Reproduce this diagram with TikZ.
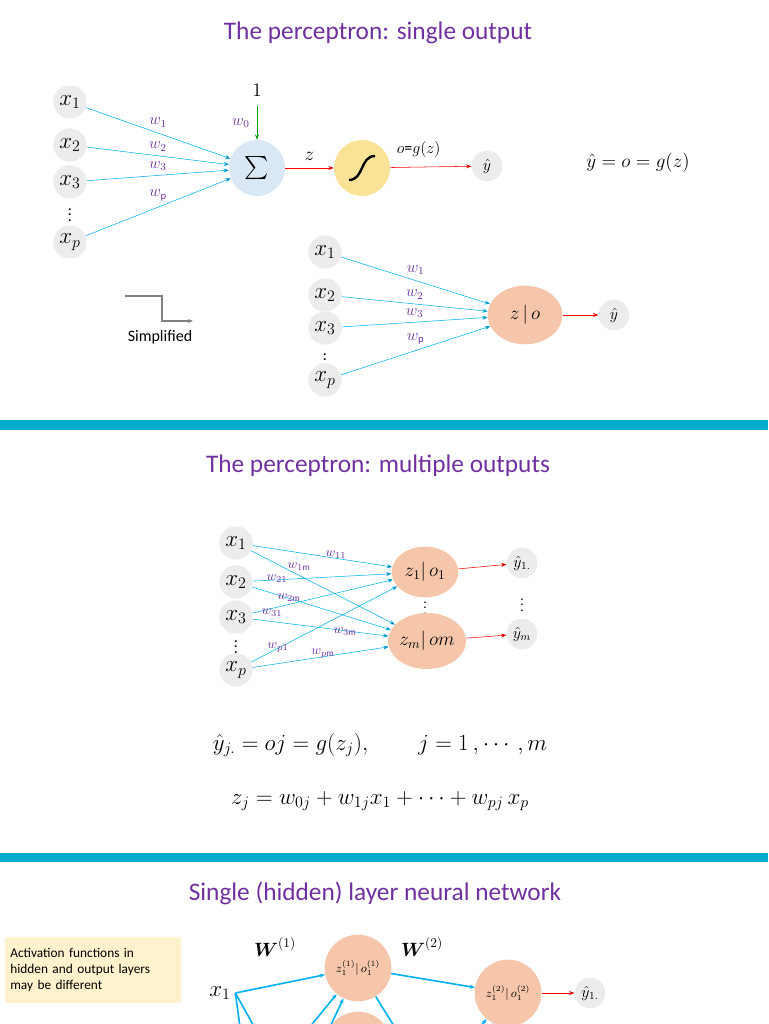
\documentclass[tikz,border=0pt]{standalone}
\usepackage{fontspec}
\setmainfont{Carlito}
\usepackage{amsmath}
\usetikzlibrary{arrows.meta,shapes.geometric,positioning}
\definecolor{titlepurple}{RGB}{112,48,160}
\definecolor{wcyan}{RGB}{0,176,240}
\definecolor{barcyan}{RGB}{0,172,206}
\definecolor{sumblue}{RGB}{218,232,246}
\definecolor{sigyellow}{RGB}{250,226,150}
\definecolor{neuron}{RGB}{246,198,170}
\definecolor{notebox}{RGB}{255,242,204}
\tikzset{
  title/.style={text=titlepurple, font=\fontsize{19}{22}\selectfont},
  inp/.style={circle, fill=gray!15, minimum size=25pt, inner sep=0pt, font=\LARGE},
  outp/.style={circle, fill=gray!15, minimum size=23pt, inner sep=0pt, font=\large},
  unit/.style={ellipse, fill=neuron, minimum width=54pt, minimum height=44pt, inner sep=0pt, font=\Large},
  wt/.style={-{Stealth[length=4pt]}, draw=wcyan, thin},
  act/.style={-{Stealth[length=4pt]}, draw=red, thin},
  wlab/.style={text=titlepurple, font=\large},
  bar/.style={fill=barcyan, draw=none}
}
\begin{document}
\begin{tikzpicture}[x=0.75pt, y=-0.75pt]
  \useasboundingbox (0,0) rectangle (768,1024);
  \clip (0,0) rectangle (768,1024);
  % bars
  \fill[bar] (0,420) rectangle (768,430);
  \fill[bar] (0,853) rectangle (768,862);
  \node[title] (t1) at (378,33) {The perceptron: single output};
  \node[title] (t2) at (378,466) {The perceptron: multiple outputs};
  \node[title] (t3) at (375,893) {Single (hidden) layer neural network};

  % single output, full
  \begin{scope}
    \node[inp] (a1) at (70,102) {$x_1$};
    \node[inp] (a2) at (70,145) {$x_2$};
    \node[inp] (a3) at (70,182) {$x_3$};
    \node[font=\large] (ad) at (70,211) {$\boldsymbol\vdots$};
    \node[inp] (ap) at (70,242) {$x_p$};
    \node[circle, fill=sumblue, minimum size=42pt, font=\LARGE] (sum) at (257,168) {$\sum$};
    \node[circle, fill=sigyellow, minimum size=42pt] (sig) at (362,168) {};
    \draw[line width=1.8pt] ([shift={(-13,12)}]sig.center) .. controls ([shift={(2,12)}]sig.center) and ([shift={(-2,-12)}]sig.center) .. ([shift={(13,-12)}]sig.center);
    \node[outp] (ay) at (487,166) {$\hat y$};
    \node[font=\rmfamily\Large] (one) at (257,90) {$1$};
    \coordinate (bias) at (257,106);
  \end{scope}
  \path[wt] (a1) edge node[wlab, pos=0.5, above=1pt] {$w_1$} (sum);
  \path[wt] (a2) edge node[wlab, pos=0.5, above=0pt] {$w_2$} (sum);
  \path[wt] (a3) edge node[wlab, pos=0.5, above=0pt] {$w_3$} (sum);
  \path[wt] (ap) edge node[wlab, pos=0.5, above=1pt] {$w_{\mathrm{p}}$} (sum);
  \draw[-{Stealth[length=4pt]}, green!60!black] (bias) -- node[wlab, left=2pt] {$w_0$} (sum);
  \path[act] (sum) edge node[above=2pt, font=\Large] {$z$} (sig);
  \path[act] (sig) edge node[above=4pt, pos=0.35, font=\rmfamily\large] {$o$=$g(z)$} (ay);
  \node[font=\Large] (f1) at (638,163) {$\hat y = o = g(z)$};

  % simplified
  \coordinate (s0) at (125,296);
  \coordinate (s1) at (162,296);
  \coordinate (s2) at (162,321);
  \coordinate (s3) at (193,321);
  \draw[gray, thick, -{Stealth[length=4pt]}] (s0) -- (s1) -- (s2) -- (s3);
  \node[font=\large] (simp) at (160,337) {Simplified};

  \begin{scope}
    \node[inp] (b1) at (325,252) {$x_1$};
    \node[inp] (b2) at (325,295) {$x_2$};
    \node[inp] (b3) at (325,328) {$x_3$};
    \node[font=\large] (bd) at (325,356) {$\boldsymbol\vdots$};
    \node[inp] (bp) at (325,380) {$x_p$};
    \node[unit, minimum width=56pt] (zo) at (525,315) {$z\,|\,o$};
    \node[outp] (by) at (614,315) {$\hat y$};
  \end{scope}
  \path[wt] (b1) edge node[wlab, pos=0.5, above=1pt] {$w_1$} (zo);
  \path[wt] (b2) edge node[wlab, pos=0.5, above=0pt] {$w_2$} (zo);
  \path[wt] (b3) edge node[wlab, pos=0.5, above=0pt] {$w_3$} (zo);
  \path[wt] (bp) edge node[wlab, pos=0.5, above=1pt] {$w_{\mathrm{p}}$} (zo);
  \path[act] (zo) edge (by);

  % multiple outputs
  \begin{scope}
    \node[inp] (c1) at (236,543) {$x_1$};
    \node[inp] (c2) at (236,582) {$x_2$};
    \node[inp] (c3) at (236,617) {$x_3$};
    \node[font=\large] (cd) at (236,643) {$\boldsymbol\vdots$};
    \node[inp] (cp) at (236,670) {$x_p$};
    \node[unit, minimum width=50pt, minimum height=38pt] (m1) at (425,572) {$z_1|\,o_1$};
    \node (md) at (425,604) {$\boldsymbol\vdots$};
    \node[unit, minimum width=56pt, minimum height=42pt] (mm) at (427,641) {$z_m|\,om$};
    \node[outp] (y1) at (522,563) {$\hat y_{1.}$};
    \node (yd) at (522,601) {$\boldsymbol\vdots$};
    \node[outp] (ym) at (522,634) {$\hat y_m$};
  \end{scope}
  \path[wt] (c1) edge (m1) (c1) edge (mm)
            (c2) edge (m1) (c2) edge (mm)
            (c3) edge (m1) (c3) edge (mm)
            (cp) edge (m1) (cp) edge (mm);
  \path[act] (m1) edge (y1) (mm) edge (ym);
  \node[wlab, font=\normalsize] at (336,555) {$w_{11}$};
  \node[wlab, font=\normalsize] at (299,567) {$w_{1\mathrm{m}}$};
  \node[wlab, font=\normalsize] at (277,579) {$w_{21}$};
  \node[wlab, font=\normalsize] at (289,598) {$w_{2\mathrm{m}}$};
  \node[wlab, font=\normalsize] at (272,613) {$w_{31}$};
  \node[wlab, font=\normalsize] at (345,632) {$w_{3\mathrm{m}}$};
  \node[wlab, font=\normalsize] at (278,648) {$w_{p1}$};
  \node[wlab, font=\normalsize] at (323,654) {$w_{p\mathrm{m}}$};
  \node[font=\LARGE] (f2) at (380,745) {$\hat y_{j.} = oj = g(z_j), \qquad j = 1\,,\cdots,m$};
  \node[font=\LARGE] (f3) at (380,801) {$z_j = w_{0j} + w_{1j}x_1 + \cdots + w_{pj}\,x_p$};

  % hidden layer
  \node[fill=notebox, text width=124pt, minimum height=49pt, align=left, font=\normalsize, inner sep=4pt] (note) at (93,970)
    {Activation functions in\\hidden and output layers\\may be different};
  \node (W1) at (275,947) {\Large $\boldsymbol{W}^{(1)}$};
  \node (W2) at (422,947) {\Large $\boldsymbol{W}^{(2)}$};
  \node[font=\LARGE] (h0) at (220,993) {$x_1$};
  \coordinate (h0b) at (250,1100);
  \coordinate (h0c) at (295,1100);
  \node[circle, fill=neuron, minimum size=50pt, inner sep=0pt, font=\small] (h1) at (358,968) {$z_1^{(1)}|\,o_1^{(1)}$};
  \node[circle, fill=neuron, minimum size=50pt] (h2) at (358,1045) {};
  \node[circle, fill=neuron, minimum size=50pt, inner sep=0pt, font=\small] (o1) at (508,993) {$z_1^{(2)}|\,o_1^{(2)}$};
  \node[outp] (hy) at (590,993) {$\hat y_{1.}$};
  \coordinate (h1b) at (440,1100);
  \coordinate (o1b) at (420,1100);
  \coordinate (o1c) at (455,1100);
  \path[wt, line width=1.2pt] (h0.east) edge (h1) (h0.east) edge (h0b) (h0.east) edge (h0c)
            (h0b) edge (h1) (h0c) edge (h1)
            (h1) edge (o1) (h1) edge (h1b)
            (o1b) edge (o1) (o1c) edge (o1);
  \path[act] (o1) edge (hy);
\end{tikzpicture}
\end{document}
